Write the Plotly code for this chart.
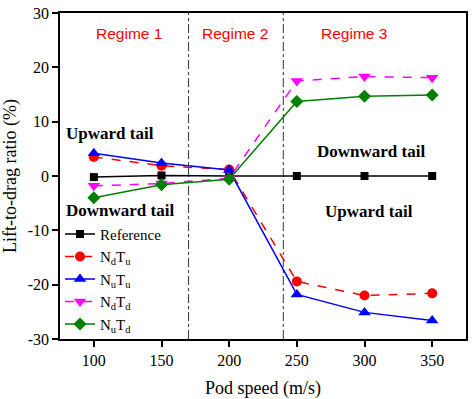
import plotly.graph_objects as go

speed = [100, 150, 200, 250, 300, 350]
reference = [-0.2, 0.1, 0.0, 0.0, 0.0, 0.0]
nd_tu = [3.5, 1.9, 1.2, -19.4, -22.0, -21.6]
nu_tu = [4.2, 2.4, 1.1, -21.8, -25.1, -26.6]
nd_td = [-1.8, -1.4, -0.4, 17.5, 18.3, 18.1]
nu_td = [-4.0, -1.6, -0.6, 13.7, 14.7, 14.9]

names = ["Reference", "N<sub>d</sub>T<sub>u</sub>", "N<sub>u</sub>T<sub>u</sub>",
         "N<sub>d</sub>T<sub>d</sub>", "N<sub>u</sub>T<sub>d</sub>"]
series = [reference, nd_tu, nu_tu, nd_td, nu_td]
colors = ["black", "red", "blue", "magenta", "green"]
dashes = ["solid", "dash", "solid", "dash", "solid"]
symbols = ["square", "circle", "triangle-up", "triangle-down", "diamond"]
msizes = [8, 10, 11, 11, 10]

x_ticks = [100, 150, 200, 250, 300, 350]
y_ticks = [-30, -20, -10, 0, 10, 20, 30]
y_ticktext = ["-30", "-20", "-10", "0", "10", "20", "30"]

regime_x = [170, 240]
regime_labels = ["Regime 1", "Regime 2", "Regime 3"]
regime_pos = [126, 204, 292]

fig = go.Figure()
for n, s, c, d, sym, ms in zip(names, series, colors, dashes, symbols, msizes):
    fig.add_trace(go.Scatter(x=speed, y=s, name=n, mode="lines+markers",
                             line=dict(color=c, dash=d, width=1.5),
                             marker=dict(symbol=sym, color=c, size=ms)))

for xv in regime_x:
    fig.add_shape(type="line", x0=xv, x1=xv, y0=-30, y1=30, xref="x", yref="y",
                  line=dict(color="#333", width=1, dash="dashdot"), layer="below")

for lab, xp in zip(regime_labels, regime_pos):
    fig.add_annotation(x=xp, y=26.3, text=lab, showarrow=False,
                       font=dict(family="Liberation Sans, Arial", size=15.5, color="red"))

tail_font = dict(family="Liberation Serif, Times New Roman", size=17, color="black")
fig.add_annotation(x=112, y=7.9, text="<b>Upward tail</b>", showarrow=False, font=tail_font)
fig.add_annotation(x=119, y=-6.4, text="<b>Downward tail</b>", showarrow=False, font=tail_font)
fig.add_annotation(x=305, y=4.6, text="<b>Downward tail</b>", showarrow=False, font=tail_font)
fig.add_annotation(x=303.5, y=-6.6, text="<b>Upward tail</b>", showarrow=False, font=tail_font)

axis_common = dict(showline=True, linecolor="black", linewidth=1.5, mirror=True,
                   ticks="outside", ticklen=6, tickwidth=1.5, tickcolor="black",
                   showgrid=False, zeroline=False, automargin=False,
                   tickfont=dict(family="Liberation Serif, Times New Roman", size=16, color="black"))

fig.update_layout(
    width=474, height=399,
    margin=dict(l=60, r=8, t=13, b=60),
    plot_bgcolor="white", paper_bgcolor="white",
    font=dict(family="Liberation Serif, Times New Roman", color="black"),
    xaxis=dict(range=[75, 375], tickvals=x_ticks,
               title=dict(text="Pod speed (m/s)", font=dict(size=18), standoff=15),
               **axis_common),
    yaxis=dict(range=[-30, 30], tickvals=y_ticks, ticktext=y_ticktext,
               title=dict(text="Lift-to-drag ratio (%)", font=dict(size=18), standoff=6),
               **axis_common),
    legend=dict(x=0.0, y=0.372, xanchor="left", yanchor="top",
                bgcolor="rgba(0,0,0,0)", font=dict(size=15),
                tracegroupgap=0, itemwidth=30),
    showlegend=True,
)

fig.write_html("out.html", config={"displayModeBar": False},
               post_script="document.body.style.margin='0';document.body.style.overflow='hidden';")
